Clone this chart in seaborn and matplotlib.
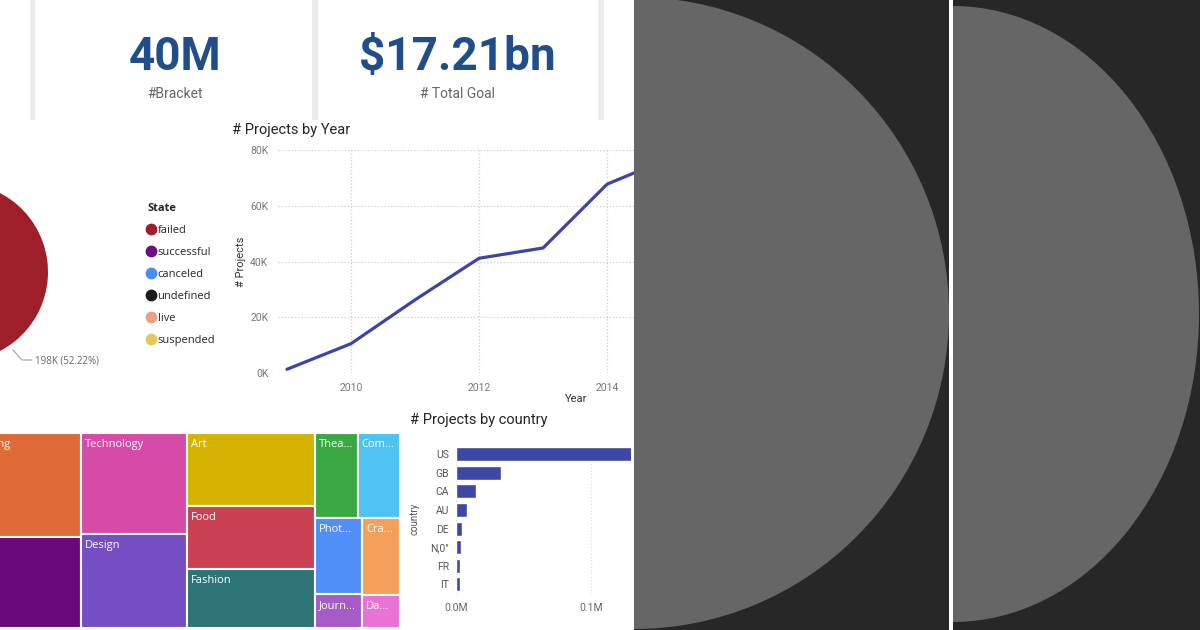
import pandas as pd
import seaborn as sns
import matplotlib.pyplot as plt
import matplotlib.transforms as mtransforms
from matplotlib.patches import Rectangle, Ellipse
from matplotlib.lines import Line2D
from matplotlib.ticker import FuncFormatter

# KPI cards
kpi_values = ["40M", "$17.21bn"]
kpi_labels = ["#Bracket", "# Total Goal"]

# projects by state (pie)
states = ["failed", "successful", "canceled", "undefined", "live", "suspended"]
state_counts = [197719, 133956, 38779, 3562, 2799, 1846]
state_colors = ["#9e1f2a", "#6b0f80", "#4b8df8", "#1b1b1b", "#e8a283", "#e3c85e"]

# projects by year (line)
years = [2009, 2010, 2011, 2012, 2013, 2014, 2015]
projects_per_year = [1329, 10519, 26237, 41165, 44851, 67745, 77300]

# projects by country (bar)
countries = ["US", "GB", "CA", "AU", "DE", 'N,0"', "FR", "IT"]
country_counts = [292627, 33672, 14756, 7839, 4171, 3797, 2939, 2878]

# projects by main category (treemap)
categories = ["Film & Video", "Music", "Publishing", "Games", "Technology", "Design",
              "Art", "Food", "Fashion", "Theater", "Comics", "Photography", "Crafts",
              "Journalism", "Dance"]
cat_counts = [63585, 51918, 39874, 35231, 32569, 30070, 28153, 24602, 22816,
              10913, 10819, 10779, 8809, 4755, 3768]
cat_labels = ["Film & Video", "Music", "Publishing", "Games", "Technology", "Design",
              "Art", "Food", "Fashion", "Thea...", "Com...", "Phot...", "Cra...",
              "Journ...", "Da..."]
cat_colors = ["#118dff", "#12239e", "#dd6b35", "#6a0a7a", "#d64aa8", "#744ec2",
              "#d6b300", "#c94152", "#2e7376", "#3aa843", "#4ec2f0", "#4f8ff7",
              "#f5a05a", "#a75bc9", "#ea72d2"]
# how the treemap cells are nested: 'h' splits left-right, 'v' splits top-bottom
tree = ("h", [("v", [0]), ("v", [1]), ("v", [2, 3]), ("v", [4, 5]), ("v", [6, 7, 8]),
              ("v", [("h", [9, 10]), ("h", [("v", [11, 13]), ("v", [12, 14])])])])

sns.set_theme(style="white")
plt.rcParams["font.family"] = ["Open Sans", "DejaVu Sans"]
DIN = ["Roboto", "DejaVu Sans"]

W, H = 1200, 630
fig = plt.figure(figsize=(12, 6.3), dpi=100, facecolor="white")


def px_axes(x, y, w, h):
    return fig.add_axes([x / W, 1 - (y + h) / H, w / W, h / H])


def px_text(x, y, s, **kw):
    fig.text(x / W, 1 - y / H, s, **kw)


# ---- KPI cards
for x0, w in [(30, 5), (312, 6), (598, 6)]:
    fig.add_artist(Rectangle((x0 / W, 1 - 120 / H), w / W, 120 / H,
                             transform=fig.transFigure, color="#ebebeb", lw=0))
for cx, val, lab in zip([175, 457], kpi_values, kpi_labels):
    px_text(cx, 57, val, ha="center", va="center", fontsize=33, weight="bold",
            color="#1f4e8a", family=DIN)
    px_text(cx, 94, lab, ha="center", va="center", fontsize=10, color="#666666", family=DIN)

# ---- pie
axP = px_axes(-130, 183, 178, 178)
axP.pie(state_counts, colors=state_colors, startangle=90, counterclock=False,
        wedgeprops=dict(linewidth=0))
axP.set_xlim(-1, 1)
axP.set_ylim(-1, 1)
total_state = sum(state_counts)
fig.add_artist(Line2D([13 / W, 22 / W, 32 / W], [1 - 350 / H, 1 - 360 / H, 1 - 360 / H],
                      transform=fig.transFigure, color="#a0a0a0", lw=0.8))
px_text(35, 361, f"{state_counts[0] / 1000:.0f}K ({state_counts[0] / total_state * 100:.2f}%)",
        va="center", fontsize=7, color="#666666")

handles = [Line2D([], [], marker="o", ls="", color=c, markersize=7.5) for c in state_colors]
fig.legend(handles, states, title="State", loc="upper left",
           bbox_to_anchor=(142 / W, 1 - 197 / H), frameon=False, fontsize=8,
           title_fontproperties={"weight": "bold", "size": 8}, alignment="left",
           handlelength=0.7, handletextpad=0.2, labelspacing=1.0, borderpad=0)

# ---- line chart
axL = px_axes(278, 150, 356, 223)
df_year = pd.DataFrame({"Year": years, "Projects": projects_per_year})
sns.lineplot(data=df_year, x="Year", y="Projects", color="#3b45a3", lw=2.3, ax=axL)
axL.set_xlim(2008.86, 2014.42)
axL.set_ylim(0, 80000)
axL.set_xticks([2010, 2012, 2014])
axL.set_yticks(range(0, 80001, 20000))
axL.yaxis.set_major_formatter(FuncFormatter(lambda v, p: f"{v / 1000:.0f}K"))
axL.grid(True, ls=":", color="#cccccc", lw=0.9)
for s in axL.spines.values():
    s.set_visible(False)
axL.tick_params(length=0, colors="#777777", labelsize=7.5, pad=7)
for t in axL.get_xticklabels() + axL.get_yticklabels():
    t.set_family(DIN)
axL.set_xlabel("Year", fontsize=8, color="#333333", family=DIN)
axL.set_ylabel("# Projects", fontsize=8, color="#333333", family=DIN)
axL.xaxis.set_label_coords((576 - 278) / 356, -0.094)
axL.yaxis.set_label_coords(-0.09, 0.5)
px_text(232, 130, "# Projects by Year", va="center", fontsize=10.5, color="#252423", family=DIN)

# ---- bar chart
axB = px_axes(456, 445, 175, 148.6)
df_country = pd.DataFrame({"country": countries, "Projects": country_counts})
sns.barplot(data=df_country, x="Projects", y="country", orient="h", color="#3d47a6",
            width=0.75, saturation=1, ax=axB)
axB.set_xlim(0, 129600)
axB.set_xticks([0, 100000])
axB.xaxis.set_major_formatter(FuncFormatter(lambda v, p: f"{v / 1e6:.1f}M"))
axB.grid(True, axis="x", ls=":", color="#dddddd", lw=0.9)
axB.set_axisbelow(True)
for s in axB.spines.values():
    s.set_visible(False)
axB.tick_params(axis="x", length=0, colors="#666666", labelsize=7.5, pad=7)
axB.tick_params(axis="y", length=0, colors="#555555", labelsize=7.5, pad=5)
for t in axB.get_xticklabels() + axB.get_yticklabels():
    t.set_family(DIN)
axB.set_xlabel("")
axB.set_ylabel("country", fontsize=7, color="#555555", family=DIN)
axB.yaxis.set_label_coords(-0.21, 0.5)
px_text(410, 420, "# Projects by country", va="center", fontsize=10.5, color="#252423", family=DIN)

# ---- treemap
axT = px_axes(0, 433, 400, 195)


def node_sum(node):
    if isinstance(node, int):
        return cat_counts[node]
    return sum(node_sum(k) for k in node[1])


def place(node, x, y, w, h, cells):
    if isinstance(node, int):
        cells.append((node, x, y, w, h))
        return
    kind, kids = node
    tot = node_sum(node)
    for k in kids:
        frac = node_sum(k) / tot
        if kind == "h":
            place(k, x, y, w * frac, h, cells)
            x += w * frac
        else:
            place(k, x, y, w, h * frac, cells)
            y += h * frac


cells = []
total_cat = sum(cat_counts)
place(tree, 0, 0, total_cat, 1, cells)
label_tr = mtransforms.offset_copy(axT.transData, fig=fig, x=4, y=-6, units="dots")
for i, x, y, w, h in cells:
    axT.add_patch(Rectangle((x, y), w, h, facecolor=cat_colors[i], edgecolor="white", lw=1.5))
    axT.text(x, y, cat_labels[i], transform=label_tr, ha="left", va="top", fontsize=8,
             color="white", clip_on=True)
axT.set_xlim(total_cat - 235500, total_cat)
axT.set_ylim(1, 0)
axT.set_axis_off()

# ---- dark decorative panels on the right (white gap between them)
for x0, x1, ell in [(634, 949, ((634, 313), 630, 632)), (953, 1200, ((953, 314), 492, 616))]:
    axD = px_axes(x0, 0, x1 - x0, 630)
    axD.set_xlim(x0, x1)
    axD.set_ylim(630, 0)
    axD.add_patch(Rectangle((x0, 0), x1 - x0, 630, color="#272727", lw=0))
    axD.add_patch(Ellipse(ell[0], ell[1], ell[2], color="#666666", lw=0))
    axD.set_axis_off()

fig.savefig("out.png", dpi=100, facecolor="white")
